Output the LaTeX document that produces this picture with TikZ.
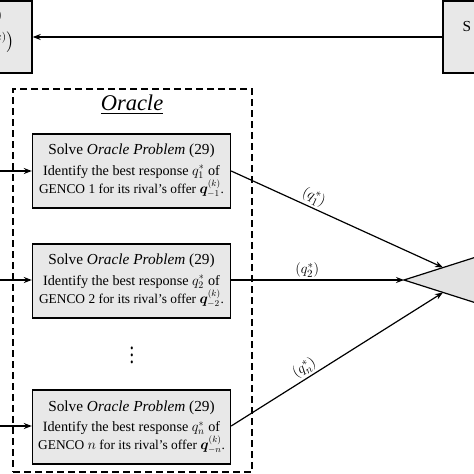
\documentclass[tikz,border=0pt]{standalone}
\usepackage{amsmath}
\usepackage{bm}
\usepackage{graphicx}
\usepackage{fontspec}
\setmainfont{Liberation Serif}
\usetikzlibrary{arrows.meta}
\begin{document}
\begin{tikzpicture}[x=1pt,y=-1pt,
  box/.style={draw, line width=1.4pt, fill=gray!18, minimum width=198pt, minimum height=74pt, inner sep=0pt, align=center},
  topbox/.style={draw, line width=1.4pt, fill=gray!18, minimum width=100pt, minimum height=72pt, inner sep=0pt},
  arr/.style={-{Stealth[length=8pt,width=6pt]}, line width=1.2pt},
  lbl/.style={font=\fontsize{15}{17}\selectfont, sloped, above, inner sep=2pt},
  ttl/.style={font=\fontsize{15.3}{18}\selectfont}]
\useasboundingbox (0,0) rectangle (474,474);
\clip (0,0) rectangle (474,474);
% top boxes
\node[topbox] (lbox) at (-18,37) {};
\node[topbox] (rbox) at (493,37) {};
\node[anchor=east, font=\fontsize{17}{20}\selectfont] (lt1) at (5,16) {0};
\node[anchor=east, font=\fontsize{16}{20}\selectfont] (lt2) at (18,42) {${}^{(k)}\big)$};
\node[anchor=west, ttl] (rt1) at (459,27) {S};
\draw[arr] (rbox.west) -- (lbox.east);
% oracle frame
\node[draw, line width=1.4pt, dash pattern=on 7pt off 4pt, minimum width=239pt, minimum height=383pt, inner sep=0pt] (oracle) at (132.5,280.5) {};
\node (olab) at (132,105) {\fontsize{22.5}{26}\selectfont\textit{\underline{Oracle}}};
% oracle boxes
\node[box] (o1) at (131.5,171) {{\fontsize{15.3}{18}\selectfont Solve \textit{Oracle Problem} (29)}\\[6pt]
  {\fontsize{14.2}{17}\selectfont Identify the best response $q_1^*$ of}\\
  {\fontsize{13.4}{17}\selectfont GENCO 1 for its rival's offer $\bm{q}_{-1}^{(k)}$.}};
\node[box] (o2) at (131.5,281) {{\fontsize{15.3}{18}\selectfont Solve \textit{Oracle Problem} (29)}\\[6pt]
  {\fontsize{14.2}{17}\selectfont Identify the best response $q_2^*$ of}\\
  {\fontsize{13.4}{17}\selectfont GENCO 2 for its rival's offer $\bm{q}_{-2}^{(k)}$.}};
\node[box] (o3) at (131.5,427) {{\fontsize{15.3}{18}\selectfont Solve \textit{Oracle Problem} (29)}\\[6pt]
  {\fontsize{14.2}{17}\selectfont Identify the best response $q_n^*$ of}\\
  {\fontsize{13.4}{17}\selectfont GENCO $n$ for its rival's offer $\bm{q}_{-n}^{(k)}$.}};
\node[inner sep=0pt] (dots) at (132,350) {\scalebox{1.3}[1.75]{\fontsize{14}{16}\selectfont$\vdots$}};
% incoming arrows
\coordinate (l1) at (0,171);
\coordinate (l2) at (0,280);
\coordinate (l3) at (0,426);
\draw[arr] (l1) -- (l1 -| o1.west);
\draw[arr] (l2) -- (l2 -| o2.west);
\draw[arr] (l3) -- (l3 -| o3.west);
% triangle
\coordinate (tip) at (404,280);
\coordinate (tu) at (490,252.6);
\coordinate (td) at (490,307.4);
\draw[line width=1.2pt, fill=gray!22] (tip) -- (tu) -- (td) -- cycle;
\coordinate (a1) at (443,267.5);
\coordinate (a3) at (443,292.5);
\coordinate (s1) at (o1.east |- l1);
\coordinate (s2) at (o2.east |- l2);
\coordinate (s3) at (o3.east |- l3);
\draw[arr] (s1) -- node[lbl, pos=0.37] {$(q_1^*)$} (a1);
\draw[arr] (s2) -- node[lbl, pos=0.44] {$(q_2^*)$} (tip);
\draw[arr] (s3) -- node[lbl, pos=0.37] {$(q_n^*)$} (a3);
\end{tikzpicture}
\end{document}
